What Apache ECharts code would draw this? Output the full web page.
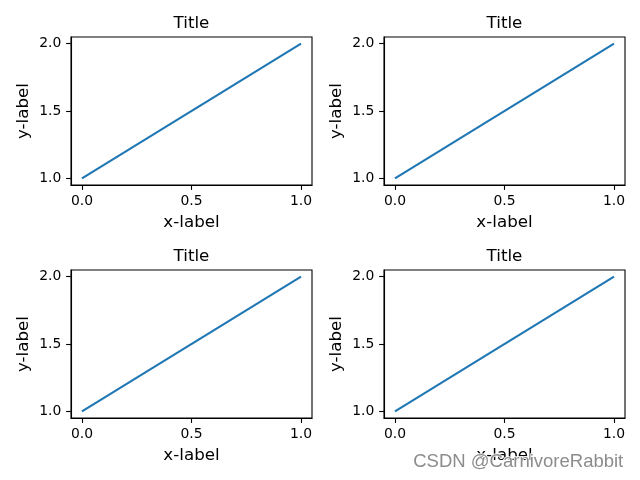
<!DOCTYPE html>
<html>
<head>
<meta charset="utf-8">
<script src="https://cdn.jsdelivr.net/npm/echarts@6/dist/echarts.min.js"></script>
<style>
html,body{margin:0;padding:0;background:#fff;}
#chart{width:640px;height:480px;}
</style>
</head>
<body>
<div id="chart"></div>
<script>
// Data
const xValues = [0, 1];
const yValues = [1, 2];
const xTicks = [0, 0.5, 1.0];
const yTicks = [1.0, 1.5, 2.0];
const titles = ['Title', 'Title', 'Title', 'Title'];
const xLabels = ['x-label', 'x-label', 'x-label', 'x-label'];
const yLabels = ['y-label', 'y-label', 'y-label', 'y-label'];

const FONT = 'DejaVu Sans';
const grids = [
  {left: 71, top: 37, width: 241, height: 148},
  {left: 384, top: 37, width: 241, height: 148},
  {left: 71, top: 270, width: 241, height: 148},
  {left: 384, top: 270, width: 241, height: 148}
];

const fmt = v => Number(v).toFixed(1);
const axisCommon = {
  axisLine: {show: true, onZero: false, lineStyle: {color: '#000', width: 1.1}},
  axisTick: {show: true, inside: false, length: 4.9, lineStyle: {color: '#000', width: 1.1}},
  splitLine: {show: false},
  nameTextStyle: {fontFamily: FONT, fontSize: 16.7, color: '#000'}
};

const option = {
  animation: false,
  backgroundColor: '#fff',
  title: grids.map((g, i) => ({
    text: titles[i],
    left: g.left + g.width / 2,
    top: g.top - 22,
    textAlign: 'center',
    padding: 0,
    textStyle: {fontFamily: FONT, fontSize: 16.7, fontWeight: 'normal', color: '#000'}
  })),
  grid: grids.map(g => Object.assign({show: true, borderColor: '#000', borderWidth: 1.1, backgroundColor: 'transparent', containLabel: false}, g)),
  xAxis: grids.map((g, i) => Object.assign({}, axisCommon, {
    type: 'value', gridIndex: i, min: -0.05, max: 1.05,
    name: xLabels[i], nameLocation: 'middle', nameGap: 29.5,
    axisTick: Object.assign({}, axisCommon.axisTick, {customValues: xTicks}),
    axisLabel: {customValues: xTicks, formatter: fmt, margin: 9.7, fontFamily: FONT, fontSize: 13.9, color: '#000'}
  })),
  yAxis: grids.map((g, i) => Object.assign({}, axisCommon, {
    type: 'value', gridIndex: i, min: 0.95, max: 2.05,
    name: yLabels[i], nameLocation: 'middle', nameGap: 38.5, nameRotate: 90,
    axisTick: Object.assign({}, axisCommon.axisTick, {customValues: yTicks}),
    axisLabel: {customValues: yTicks, formatter: fmt, margin: 9.7, fontFamily: FONT, fontSize: 13.9, color: '#000'}
  })),
  series: grids.map((g, i) => ({
    type: 'line', xAxisIndex: i, yAxisIndex: i,
    data: xValues.map((x, k) => [x, yValues[k]]),
    showSymbol: false, symbol: 'none',
    lineStyle: {color: '#1f77b4', width: 2.1},
    itemStyle: {color: '#1f77b4'}
  })),
  graphic: [{
    type: 'text', right: 16, top: 452, z: 100,
    style: {text: 'CSDN @CarnivoreRabbit', fontFamily: 'Liberation Sans', fontSize: 18.5,
      fill: '#8c8c8c', stroke: '#fff', lineWidth: 1.5}
  }]
};

const chart = echarts.init(document.getElementById('chart'), null, {renderer: 'canvas'});
chart.setOption(option);
</script>
</body>
</html>
